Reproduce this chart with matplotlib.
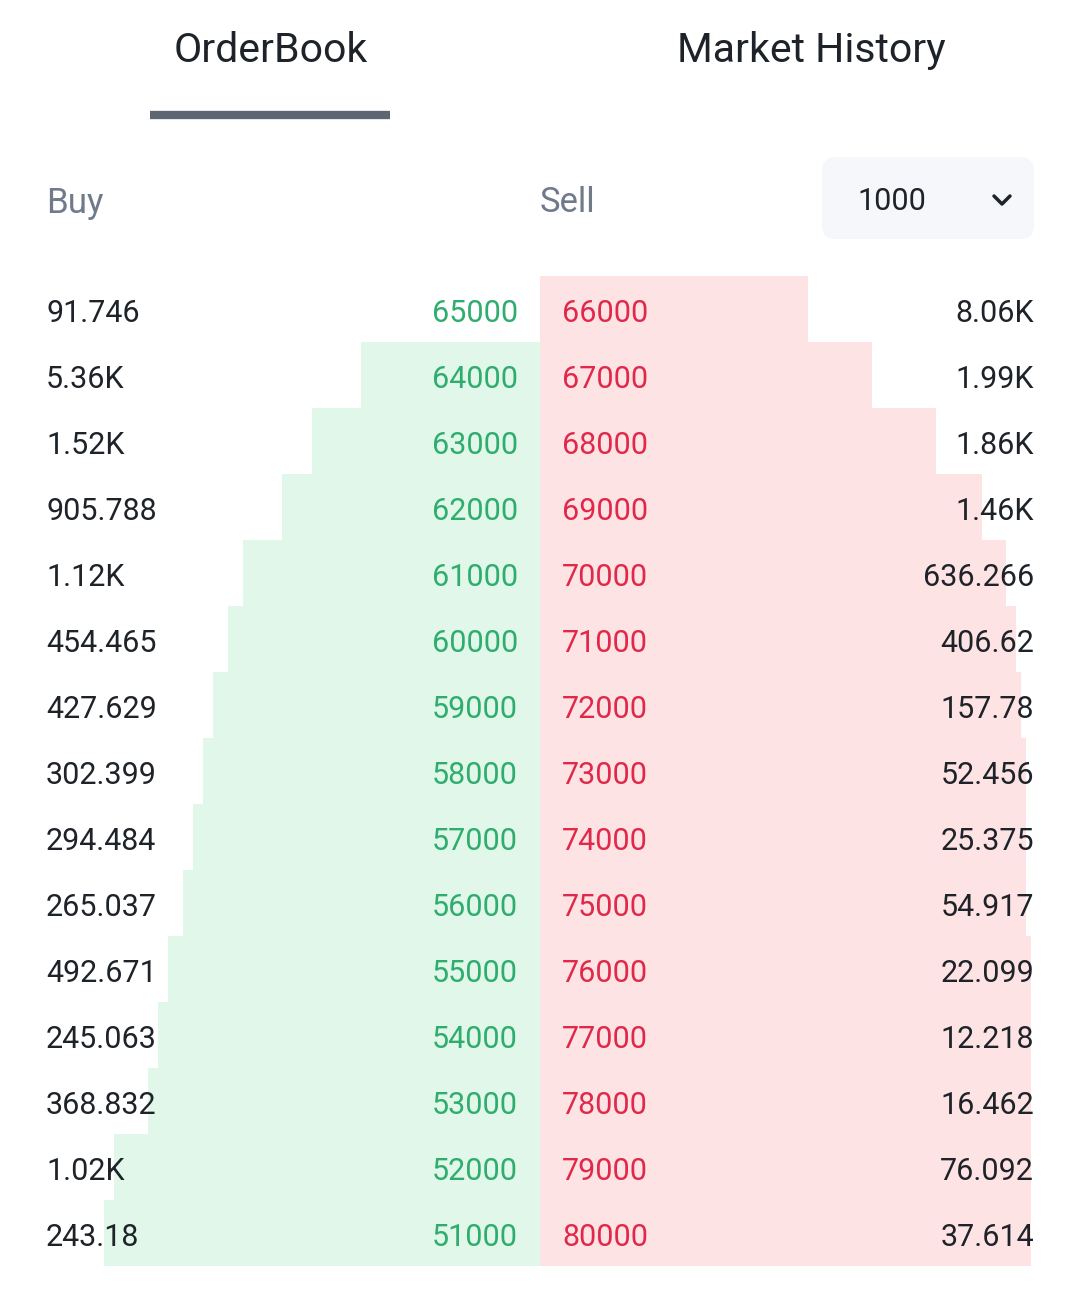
import matplotlib
matplotlib.use("Agg")
import matplotlib.pyplot as plt
from matplotlib.patches import FancyBboxPatch

plt.rcParams["font.family"] = ["Roboto", "DejaVu Sans"]

# order book levels
buy_prices = [65000, 64000, 63000, 62000, 61000, 60000, 59000, 58000,
              57000, 56000, 55000, 54000, 53000, 52000, 51000]
buy_amounts = ["91.746", "5.36K", "1.52K", "905.788", "1.12K", "454.465", "427.629",
               "302.399", "294.484", "265.037", "492.671", "245.063", "368.832",
               "1.02K", "243.18"]
sell_prices = [66000, 67000, 68000, 69000, 70000, 71000, 72000, 73000,
               74000, 75000, 76000, 77000, 78000, 79000, 80000]
sell_amounts = ["8.06K", "1.99K", "1.86K", "1.46K", "636.266", "406.62", "157.78",
                "52.456", "25.375", "54.917", "22.099", "12.218", "16.462",
                "76.092", "37.614"]
# depth bar lengths (relative units)
buy_depth = [0, 179, 228, 258, 297, 312, 327, 337, 347, 357, 372, 382, 392, 426, 436]
sell_depth = [268, 332, 396, 442, 466, 476, 481, 486, 486, 486, 491, 491, 491, 491, 491]

W, H = 1080, 1313
fig = plt.figure(figsize=(W / 100, H / 100), dpi=100)
ax = fig.add_axes([0, 0, 1, 1])
ax.set_xlim(0, W)
ax.set_ylim(H, 0)
ax.axis("off")

GREEN_BG, RED_BG = "#e1f7e9", "#fee3e4"
GREEN, RED = "#2ead6e", "#e0294a"
GREY, DARK = "#707a8a", "#1e2329"
MID, ROW, TOP = 540, 66, 276

ys = [TOP + ROW * i + ROW / 2 for i in range(len(buy_prices))]
ax.barh(ys, buy_depth, height=ROW, left=[MID - d for d in buy_depth], color=GREEN_BG, linewidth=0)
ax.barh(ys, sell_depth, height=ROW, left=MID, color=RED_BG, linewidth=0)

fs = 22
for y, bp, ba, sp, sa in zip(ys, buy_prices, buy_amounts, sell_prices, sell_amounts):
    ax.text(46, y + 4, ba, fontsize=fs, color=DARK, ha="left", va="center")
    ax.text(518, y + 4, str(bp), fontsize=fs, color=GREEN, ha="right", va="center")
    ax.text(562, y + 4, str(sp), fontsize=fs, color=RED, ha="left", va="center")
    ax.text(1034, y + 4, sa, fontsize=fs, color=DARK, ha="right", va="center")

# tabs
ax.text(271, 51, "OrderBook", fontsize=29.5, color=DARK, ha="center", va="center")
ax.text(811, 51, "Market History", fontsize=29.5, color=DARK, ha="center", va="center")
ax.plot([150, 390], [115, 115], color="#5e6673", lw=6, solid_capstyle="butt")

# header row
ax.text(46, 203, "Buy", fontsize=25, color=GREY, ha="left", va="center")
ax.text(540, 203, "Sell", fontsize=25, color=GREY, ha="left", va="center")
ax.add_patch(FancyBboxPatch((834, 169), 188, 58, boxstyle="round,pad=12,rounding_size=14",
                            facecolor="#f5f7fa", edgecolor="none"))
ax.text(857, 202, "1000", fontsize=22, color=DARK, ha="left", va="center")
ax.plot([994, 1002, 1010], [196, 204, 196], color=DARK, lw=2.5,
        solid_capstyle="round", solid_joinstyle="round")

fig.savefig("out.png", dpi=100, facecolor="white")
